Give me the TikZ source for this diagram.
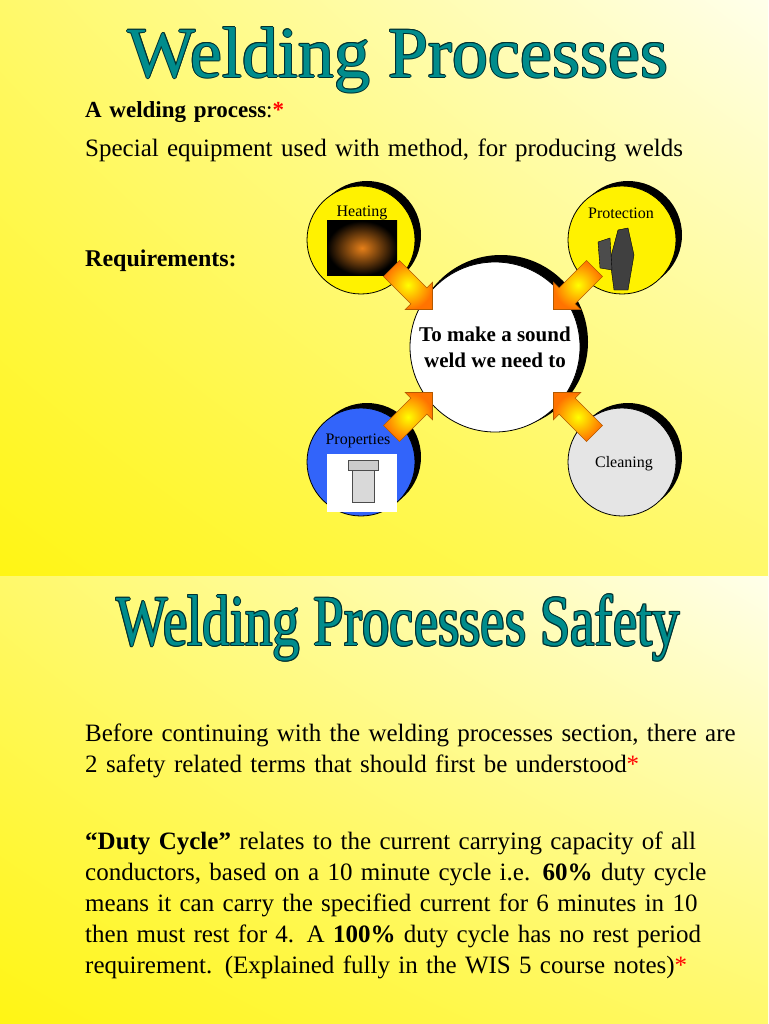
\documentclass[tikz,border=0pt]{standalone}
\usepackage{fontspec}
\setmainfont{Liberation Serif}
\newfontfamily\ttlfont{Liberation Serif}
\usetikzlibrary{shapes.arrows,shadings,calc}
\definecolor{teal1}{RGB}{0,140,140}
\definecolor{outc}{RGB}{0,50,50}
\definecolor{paleY}{RGB}{255,255,235}
\definecolor{deepY}{RGB}{255,245,20}
\definecolor{propB}{RGB}{50,100,250}
\newcommand{\titlenode}[4]{%
  \foreach \dx/\dy in {-1/0,1/0,0/-1,0/1,-0.7/-0.7,0.7/0.7,-0.7/0.7,0.7/-0.7}
    \node[ttl, text=outc] at ($(#2)+(\dx,\dy)$) {\scalebox{#3}[1]{#4}};
  \node[ttl] (#1) at (#2) {\scalebox{#3}[1]{#4}};}
\begin{document}
\begin{tikzpicture}[x=1pt,y=-1pt,
  ttl/.style={font=\ttlfont\fontsize{72}{72}\selectfont, text=teal1, anchor=center},
  body/.style={font=\fontsize{25}{31}\selectfont, anchor=north west, align=left, text width=690pt, inner sep=0pt},
  small/.style={draw=black, line width=0.8pt, circle, minimum size=108pt, inner sep=0pt},
  shadowc/.style={fill=black, circle, minimum size=108pt, inner sep=0pt},
  lbl/.style={font=\fontsize{16}{16}\selectfont},
  arr/.style={single arrow, draw=orange!70!black, line width=0.6pt, inner color=yellow, outer color=orange!90!red, minimum height=58pt, inner xsep=0pt, inner ysep=11pt, single arrow head extend=8pt}]
\useasboundingbox (0,0) rectangle (768,1024);
\shade[lower left=deepY, upper right=paleY, lower right=deepY!60!paleY, upper left=deepY!60!paleY] (0,0) rectangle (768,576);
\shade[lower left=deepY, upper right=paleY, lower right=deepY!60!paleY, upper left=deepY!60!paleY] (0,576) rectangle (768,1024);
% slide 1
\coordinate (t1c) at (398,60);
\titlenode{t1}{t1c}{1}{Welding Processes}
\node[body, font=\fontsize{23}{24}\selectfont] (wp) at (85,101) {\textbf{A welding process}:\textcolor{red}{\textbf{*}}};
\node[body] (se) at (85,139) {Special equipment used with method, for producing welds};
\node[body, font=\bfseries\fontsize{24}{24}\selectfont] (rq) at (85,250) {Requirements:};
% centre
\node[circle, fill=black, minimum size=174pt] (cs) at (501,342) {};
\node[circle, draw=black, fill=white, line width=0.8pt, minimum size=170pt, align=center, font=\bfseries\fontsize{21}{26}\selectfont] (c) at (495,347) {To make a sound\\weld we need to};
% small circles
\node[shadowc] (h0) at (367,235) {};
\node[small, fill=yellow] (h) at (361,240) {};
\node[shadowc] (p0) at (628,235) {};
\node[small, fill=yellow] (p) at (622,240) {};
\node[shadowc] (r0) at (367,457) {};
\node[small, fill=propB] (r) at (361,462) {};
\node[shadowc] (k0) at (628,457) {};
\node[small, fill=gray!20] (k) at (622,462) {};
\node[lbl] (hl) at (362,213) {Heating};
\node[lbl] (pl) at (621,213) {Protection};
\node[lbl] (rl) at (358,441) {Properties};
\node[lbl] (kl) at (624,464) {Cleaning};
\node[minimum width=70pt, minimum height=54pt, inner sep=0pt, inner color=orange!60!brown, outer color=black] (himg) at (362,248) {};
\node[fill=white, minimum width=70pt, minimum height=58pt, inner sep=0pt] (rimg) at (362,483) {};
\draw[fill=gray!30, draw=gray!60!black] (352,462) rectangle (374,502);
\draw[fill=gray!40, draw=gray!60!black] (348,460) rectangle (378,470);
\draw[fill=gray!50!black] (618,230) -- (628,228) -- (634,255) -- (628,290) -- (614,290) -- (610,260) -- cycle;
\draw[fill=gray!60!black] (598,242) -- (610,238) -- (612,270) -- (600,268) -- cycle;
% arrows
\node[arr, rotate=-45] (a1) at (408,285) {};
\node[arr, rotate=-135] (a2) at (578,285) {};
\node[arr, rotate=45] (a3) at (408,417) {};
\node[arr, rotate=135] (a4) at (578,417) {};
% slide 2
\coordinate (t2c) at (398,628);
\titlenode{t2}{t2c}{0.76}{Welding Processes Safety}
\node[body, text width=660pt] (b1) at (85,724) {\raggedright Before continuing with the welding processes section, there are 2 safety related terms that should first be understood\textcolor{red}{*}};
\node[body, text width=640pt] (b2) at (85,832) {\raggedright\textbf{“Duty Cycle”} relates to the current carrying capacity of all conductors, based on a 10 minute cycle i.e. \textbf{60\%} duty cycle means it can carry the specified current for 6 minutes in 10 then must rest for 4. A \textbf{100\%} duty cycle has no rest period requirement. (Explained fully in the WIS 5 course notes)\textcolor{red}{*}};
\end{tikzpicture}
\end{document}
